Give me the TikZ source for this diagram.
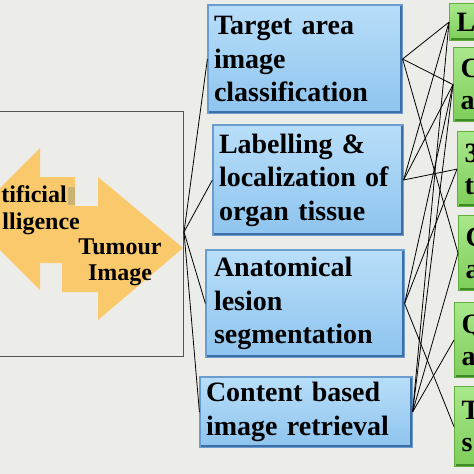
\documentclass[tikz,border=0pt]{standalone}
\usepackage{fontspec}
\setmainfont{Liberation Serif}
\definecolor{bgc}{HTML}{ECECE9}
\definecolor{bluetop}{HTML}{B8DEF9}
\definecolor{bluebot}{HTML}{8EC4EE}
\definecolor{blueedge}{HTML}{6A9CCF}
\definecolor{bluebevel}{HTML}{3D6EA5}
\definecolor{greentop}{HTML}{A9E88C}
\definecolor{greenbot}{HTML}{7ECD59}
\definecolor{greenedge}{HTML}{62AD40}
\definecolor{greenbevel}{HTML}{3E8A27}
\definecolor{arrowyel}{HTML}{F9C96C}
\definecolor{khaki}{HTML}{C8B274}
\definecolor{framec}{HTML}{555555}
\begin{document}
\begin{tikzpicture}[x=1pt,y=-1pt,
  bluebox/.style={draw=blueedge, line width=1.2pt, top color=bluetop, bottom color=bluebot,
    inner xsep=6pt, inner ysep=0pt, align=left, anchor=center,
    font=\bfseries\fontsize{28}{33.5}\selectfont},
  greenbox/.style={draw=greenedge, line width=1.2pt, top color=greentop, bottom color=greenbot,
    inner xsep=7pt, inner ysep=0pt, align=left, anchor=north west, text width=26pt,
    minimum width=40pt, font=\bfseries\fontsize{28}{32}\selectfont},
  bbevel/.style={draw=bluebevel, line width=2pt},
  gbevel/.style={draw=greenbevel, line width=2pt},
  conn/.style={draw=black, line width=0.8pt},
  arrtext/.style={inner sep=0pt, font=\bfseries\fontsize{24}{25.5}\selectfont},
  yarrow/.style={fill=arrowyel, draw=none}]

\useasboundingbox (0,0) rectangle (474,474);
\fill[bgc] (0,0) rectangle (474,474);

% left frame
\draw[framec, line width=1pt] (-2,111) rectangle (183,356);

% yellow arrows
\path[yarrow] (75,177) -- (40,177) -- (40,148) -- (-31,219) -- (40,290) -- (40,263) -- (75,263) -- cycle;
\path[yarrow] (62,206) -- (98,206) -- (98,177) -- (183,248) -- (98,320) -- (98,292) -- (62,292) -- cycle;
\fill[khaki] (68,187) rectangle (75,205);

\node[arrtext, anchor=base east] (ai1) at (67,202) {tificial};
\node[arrtext, anchor=base east] (ai2) at (80,229) {lligence};
\node[arrtext, align=center, anchor=center] (ti) at (120,262.5) {Tumour\\Image};

% blue boxes
\node[bluebox, text width=182pt, minimum height=108pt] (b1) at (305,59) {Target area\\image\\classification};
\node[bluebox, text width=178pt, minimum height=110pt] (b2) at (308,180) {Labelling \&\\localization of\\organ tissue};
\node[bluebox, text width=182pt, minimum height=107pt, inner xsep=8pt] (b3) at (305,303.5) {Anatomical\\lesion\\segmentation};
\node[bluebox, text width=200pt, minimum height=70pt] (b4) at (306,412) {Content based\\image retrieval};

\foreach \b in {b1,b2,b3,b4}{
  \draw[bbevel] ([xshift=2pt,yshift=2pt]\b.south west) -- ([xshift=-2pt,yshift=2pt]\b.south east) -- ([xshift=-2pt,yshift=-2pt]\b.north east);
}

% green boxes (cut by the right edge)
\node[greenbox, minimum height=37pt] (g1) at (449,3) {L};
\node[greenbox, minimum height=74pt] (g2) at (453,47) {C\\a};
\node[greenbox, minimum height=75pt] (g3) at (457,131) {3\\t};
\node[greenbox, minimum height=75pt] (g4) at (458,215) {C\\a};
\node[greenbox, minimum height=75pt] (g5) at (454,302) {Q\\a};
\node[greenbox, minimum height=80pt] (g6) at (454,386) {T\\s};

\foreach \g in {g1,g2,g3,g4,g5,g6}{
  \draw[gbevel] ([xshift=2pt,yshift=2pt]\g.south west) -- ([xshift=-2pt,yshift=2pt]\g.south east);
}

% hub connectors
\coordinate (hub) at (184,232);
\draw[conn] (hub) -- (b1.west);
\draw[conn] (hub) -- (b2.west);
\draw[conn] (hub) -- (b3.west);
\draw[conn] (hub) -- (b4.west);

% right connectors
\draw[conn] (b1.east) -- (g1.west);
\draw[conn] (b1.east) -- (g2.west);
\draw[conn] (b1.east) -- (g4.west);
\draw[conn] (b2.east) -- (g1.west);
\draw[conn] (b2.east) -- (g2.west);
\draw[conn] (b2.east) -- (g3.west);
\draw[conn] (b3.east) -- (g2.west);
\draw[conn] (b3.east) -- (g3.west);
\draw[conn] (b3.east) -- (g6.west);
\draw[conn] (b4.east) -- (g1.west);
\draw[conn] (b4.east) -- (g2.west);
\draw[conn] (b4.east) -- (g4.west);
\draw[conn] (b4.east) -- (g5.west);
\end{tikzpicture}
\end{document}
